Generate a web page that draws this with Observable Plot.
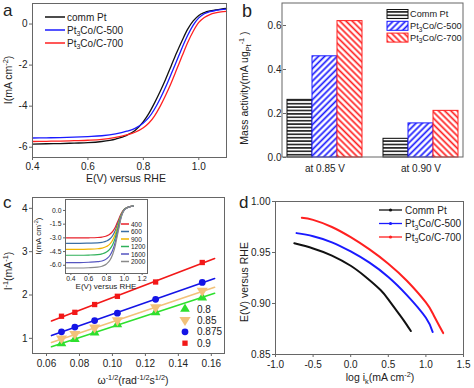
<!DOCTYPE html>
<html><head><meta charset="utf-8">
<script src="https://cdn.jsdelivr.net/npm/d3@7"></script>
<script src="https://cdn.jsdelivr.net/npm/@observablehq/plot@0.6"></script>
<style>
body{margin:0;background:#fff;}
#wrap{position:relative;width:474px;height:388px;overflow:hidden;background:#fff;}
#wrap svg{position:absolute;}
</style></head><body><div id="wrap"></div>
<script>
// ---------- Panel a data (LSV curves) ----------
const aE    = [0.40,0.45,0.50,0.55,0.60,0.65,0.70,0.74,0.77,0.80,0.82,0.84,0.86,0.88,0.90,0.92,0.94,0.96,0.98,1.00,1.02,1.04,1.06,1.08,1.10];
const aPt   = [-5.85,-5.83,-5.82,-5.80,-5.78,-5.72,-5.60,-5.42,-5.18,-4.75,-4.35,-3.85,-3.30,-2.70,-2.05,-1.40,-0.80,-0.25,0.15,0.42,0.56,0.64,0.69,0.73,0.76];
const a500  = [-5.55,-5.54,-5.53,-5.51,-5.48,-5.44,-5.35,-5.22,-5.08,-4.82,-4.55,-4.15,-3.65,-3.08,-2.45,-1.80,-1.15,-0.55,-0.05,0.30,0.50,0.60,0.66,0.70,0.73];
const a700  = [-5.72,-5.71,-5.70,-5.68,-5.66,-5.62,-5.52,-5.40,-5.27,-5.05,-4.82,-4.48,-4.02,-3.48,-2.88,-2.22,-1.55,-0.90,-0.35,0.08,0.32,0.46,0.54,0.59,0.62];
const aSeries = ["comm Pt","Pt3Co/C-500","Pt3Co/C-700"];
const aColors = ["#111111","#1a1aff","#ff2020"];

// ---------- Panel b data (mass activity) ----------
const bGroups = ["at 0.85 V","at 0.90 V"];
const bSeries = ["Comm Pt","Pt3Co/C-500","Pt3Co/C-700"];
const bCommPt = [0.262,0.085];
const b500    = [0.460,0.155];
const b700    = [0.620,0.212];
const bColors = ["#111111","#1a1aff","#ff2020"];

// ---------- Panel c data (K-L plots) ----------
const cX     = [0.0691,0.0772,0.0892,0.1030,0.1262,0.1545];
const cV080  = [0.88,0.98,1.13,1.32,1.60,1.94];
const cV085  = [0.99,1.09,1.24,1.41,1.71,2.09];
const cV0875 = [1.15,1.26,1.41,1.58,1.90,2.29];
const cV090  = [1.51,1.60,1.78,1.97,2.30,2.75];
const cSeries = ["0.8","0.85","0.875","0.9"];
const cColors = ["#2ee02e","#f2c27a","#1414e6","#f21818"];
const cFitRange = [0.063,0.162];

// ---------- Panel c inset data (LSV at rotation rates) ----------
const iE    = [0.35,0.50,0.60,0.70,0.75,0.80,0.84,0.87,0.90,0.92,0.94,0.96,0.98,1.00,1.03,1.06,1.10];
const i400  = [-3.00,-3.00,-2.99,-2.96,-2.91,-2.79,-2.58,-2.28,-1.80,-1.35,-0.90,-0.45,-0.10,0.15,0.32,0.42,0.48];
const i600  = [-3.60,-3.60,-3.58,-3.55,-3.49,-3.35,-3.10,-2.74,-2.16,-1.62,-1.08,-0.54,-0.14,0.12,0.31,0.42,0.48];
const i900  = [-4.25,-4.25,-4.23,-4.19,-4.12,-3.95,-3.66,-3.23,-2.55,-1.91,-1.28,-0.64,-0.18,0.10,0.30,0.41,0.48];
const i1200 = [-4.90,-4.90,-4.88,-4.83,-4.75,-4.56,-4.21,-3.72,-2.94,-2.20,-1.47,-0.74,-0.22,0.08,0.29,0.41,0.48];
const i1600 = [-5.70,-5.70,-5.67,-5.61,-5.53,-5.30,-4.90,-4.33,-3.42,-2.57,-1.71,-0.86,-0.27,0.06,0.28,0.40,0.48];
const i2000 = [-6.30,-6.30,-6.27,-6.21,-6.11,-5.86,-5.42,-4.79,-3.78,-2.84,-1.89,-0.95,-0.31,0.04,0.27,0.40,0.48];
const iSeries = ["400","600","900","1200","1600","2000"];
const iColors = ["#e8202a","#3a6ea5","#f0b400","#2fb05a","#5555c0","#8a8a8a"];

// ---------- Panel d data (Tafel plots) ----------
const dPtX  = [-0.75,-0.50,-0.25,0.00,0.20,0.40,0.50,0.60,0.70,0.80];
const dPtY  = [0.959,0.954,0.947,0.937,0.926,0.913,0.904,0.894,0.884,0.873];
const d500X = [-0.72,-0.50,-0.25,0.00,0.25,0.50,0.75,1.00,1.09];
const d500Y = [0.969,0.966,0.960,0.951,0.940,0.926,0.908,0.886,0.872];
const d700X = [-0.65,-0.50,-0.25,0.00,0.25,0.50,0.75,1.00,1.10,1.23];
const d700Y = [0.984,0.982,0.975,0.965,0.953,0.939,0.922,0.901,0.889,0.871];
const dSeries = ["Comm Pt","Pt3Co/C-500","Pt3Co/C-700"];
const dColors = ["#111111","#1a1aff","#ff2020"];

// ---------- helpers ----------
const FONT = "'Liberation Sans', Arial, Helvetica, sans-serif";
const TXT = "#222";
const FRAME = "#666";
const wrap = document.getElementById("wrap");
function place(svg, left, top) { svg.style.left = left + "px"; svg.style.top = top + "px"; wrap.appendChild(svg); return svg; }
function baseStyle(size) { return {fontFamily: FONT, fontSize: size + "px", background: "transparent", color: TXT, overflow: "visible"}; }
function rich(svg, x, y, parts, o = {}) {
  const size = o.size || 10.5;
  const t = d3.select(svg).append("text")
    .attr("transform", `translate(${x},${y})` + (o.rotate ? ` rotate(${o.rotate})` : ""))
    .attr("text-anchor", o.anchor || "start")
    .attr("font-family", FONT).attr("font-size", size)
    .attr("fill", o.fill || TXT);
  let cur = 0;
  for (const p of parts) {
    const [s, k] = Array.isArray(p) ? p : [p, ""];
    const target = k === "sup" ? -size * 0.4 : k === "sub" ? size * 0.28 : 0;
    t.append("tspan").attr("dy", target - cur).attr("font-size", k ? size * 0.7 : size).text(s);
    cur = target;
  }
  return t;
}
function label(name) {
  if (name.startsWith("Pt3")) return ["Pt", ["3", "sub"], name.slice(3)];
  return [name];
}
const dec1 = d => d.toFixed(1);
const dec2 = d => d.toFixed(2);

// ---------- Panel a ----------
const aRows = [];
[aPt, a500, a700].forEach((arr, k) => arr.forEach((v, i) => aRows.push({E: aE[i], I: v, s: aSeries[k]})));
const pa = Plot.plot({
  width: 237, height: 194, marginLeft: 32, marginRight: 11, marginTop: 3, marginBottom: 37,
  style: baseStyle(10),
  x: {domain: [0.4, 1.1]}, y: {domain: [-6.5, 1.0]},
  color: {domain: aSeries, range: aColors},
  marks: [
    Plot.line(aRows, {x: "E", y: "I", z: "s", stroke: "s", strokeWidth: 1.3, curve: "monotone-x"}),
    Plot.frame({stroke: FRAME}),
    Plot.axisX({ticks: [0.4, 0.6, 0.8, 1.0], tickFormat: dec1, tickSize: 3, tickPadding: 2, label: null, stroke: FRAME}),
    Plot.axisY({ticks: [0, -2, -4, -6], tickFormat: d => String(d), tickSize: 3, tickPadding: 2, label: null, stroke: FRAME})
  ]
});
place(pa, 0, 0);
rich(pa, 3, 16, ["a"], {size: 17});
rich(pa, 12, 80, ["I(mA cm", ["-2", "sup"], ")"], {size: 10.5, anchor: "middle", rotate: -90});
rich(pa, 126, 182, ["E(V) versus RHE"], {size: 10.5, anchor: "middle"});
aSeries.forEach((s, k) => {
  const y = 17 + k * 13;
  d3.select(pa).append("line").attr("x1", 45).attr("x2", 65).attr("y1", y).attr("y2", y).attr("stroke", aColors[k]).attr("stroke-width", 1.5);
  rich(pa, 67, y + 3.5, label(s), {size: 10});
});

// ---------- Panel b ----------
const bRows = [];
[bCommPt, b500, b700].forEach((arr, k) => arr.forEach((v, i) => bRows.push({g: bGroups[i], s: bSeries[k], v})));
const pb = Plot.plot({
  width: 237, height: 194, marginLeft: 45, marginRight: 11, marginTop: 3, marginBottom: 37,
  style: baseStyle(10),
  fx: {domain: bGroups, paddingInner: 0.2, paddingOuter: 0.04},
  x: {domain: bSeries, padding: 0, axis: null},
  y: {domain: [0, 0.7]},
  marks: [
    ...bSeries.map((s, k) => Plot.barY(bRows.filter(d => d.s === s), {fx: "g", x: "s", y: "v", fill: "white", stroke: bColors[k], strokeWidth: 1, className: "bser" + k})),
    Plot.axisFx({anchor: "bottom", tickSize: 0, tickPadding: 7, label: null}),
    Plot.axisY({ticks: [0, 0.2, 0.4, 0.6], tickFormat: dec1, tickSize: 3, tickPadding: 2, label: null, stroke: FRAME})
  ]
});
place(pb, 237, 0);
{
  const svg = d3.select(pb);
  const defs = svg.insert("defs", ":first-child");
  function pat(id, color, angle, s, sw) {
    const p = defs.append("pattern").attr("id", id).attr("patternUnits", "userSpaceOnUse")
      .attr("width", s).attr("height", s).attr("patternTransform", `rotate(${angle})`);
    p.append("rect").attr("width", s).attr("height", s).attr("fill", "white");
    p.append("line").attr("x1", -1).attr("x2", s + 1).attr("y1", s / 2).attr("y2", s / 2).attr("stroke", color).attr("stroke-width", sw);
  }
  pat("hb0", bColors[0], 0, 3.4, 1.5);
  pat("hb1", bColors[1], -45, 4.4, 1.7);
  pat("hb2", bColors[2], 45, 4.4, 1.7);
  bSeries.forEach((s, k) => svg.selectAll(".bser" + k + " rect").attr("fill", `url(#hb${k})`));
  svg.append("rect").attr("x", 45).attr("y", 3).attr("width", 237 - 45 - 11).attr("height", 194 - 3 - 37)
    .attr("fill", "none").attr("stroke", FRAME);
  bSeries.forEach((s, k) => {
    const y = 14 + k * 11.8;
    svg.append("rect").attr("x", 150).attr("y", y - 4.5).attr("width", 21).attr("height", 9)
      .attr("fill", `url(#hb${k})`).attr("stroke", bColors[k]).attr("stroke-width", 1);
    rich(pb, 173, y + 3.3, label(s), {size: 9.2});
  });
}
rich(pb, 5, 17, ["b"], {size: 18});
rich(pb, 11, 88, ["Mass activity(mA ug", ["Pt", "sub"], ["-1", "sup"], " )"], {size: 10.5, anchor: "middle", rotate: -90});

// ---------- Panel c ----------
const cRows = [];
[cV080, cV085, cV0875, cV090].forEach((arr, k) => arr.forEach((v, i) => cRows.push({x: cX[i], y: v, s: cSeries[k]})));
const cFit = [];
[cV080, cV085, cV0875, cV090].forEach((arr, k) => {
  const mx = d3.mean(cX), my = d3.mean(arr);
  const slope = d3.sum(cX, (x, i) => (x - mx) * (arr[i] - my)) / d3.sum(cX, x => (x - mx) ** 2);
  cFitRange.forEach(x => cFit.push({x, y: my + slope * (x - mx), s: cSeries[k]}));
});
const triDown = {draw(ctx, size) {
  const r = Math.sqrt(size / 1.3);
  ctx.moveTo(-r, -r * 0.6); ctx.lineTo(r, -r * 0.6); ctx.lineTo(0, r * 1.0); ctx.closePath();
}};
const cSymbols = ["triangle", triDown, "circle", "square"];
const cSizes = [3.6, 3.6, 3.4, 3.0];
const pc = Plot.plot({
  width: 237, height: 194, marginLeft: 32, marginRight: 13, marginTop: 3, marginBottom: 35,
  style: baseStyle(10),
  x: {domain: [0.0515, 0.168]}, y: {domain: [0.65, 4.25]},
  color: {domain: cSeries, range: cColors},
  marks: [
    Plot.line(cFit, {x: "x", y: "y", z: "s", stroke: "s", strokeWidth: 1.6}),
    ...cSeries.map((s, k) => Plot.dot(cRows.filter(d => d.s === s), {x: "x", y: "y", fill: cColors[k], stroke: "none", symbol: cSymbols[k], r: cSizes[k]})),
    Plot.frame({stroke: FRAME}),
    Plot.axisX({ticks: [0.06, 0.08, 0.10, 0.12, 0.14, 0.16], tickFormat: dec2, tickSize: 3, tickPadding: 3, label: null, stroke: FRAME}),
    Plot.axisY({ticks: [1, 2, 3, 4], tickFormat: d => String(d), tickSize: 3, tickPadding: 2, label: null, stroke: FRAME})
  ]
});
place(pc, 0, 194);
rich(pc, 3, 14, ["c"], {size: 17});
rich(pc, 12, 77, ["I", ["-1", "sup"], "(mA", ["-1", "sup"], ")"], {size: 10.5, anchor: "middle", rotate: -90});
rich(pc, 133, 190, ["ω", ["-1/2", "sup"], "(rad", ["-1/2", "sup"], "s", ["1/2", "sup"], ")"], {size: 10.5, anchor: "middle"});
cSeries.forEach((s, k) => {
  const y = 115 + k * 11.4;
  const sz = Math.PI * cSizes[k] * cSizes[k];
  const sym = typeof cSymbols[k] === "string" ? {triangle: d3.symbolTriangle, circle: d3.symbolCircle, square: d3.symbolSquare}[cSymbols[k]] : cSymbols[k];
  d3.select(pc).append("path").attr("d", d3.symbol(sym, sz)()).attr("transform", `translate(185,${y})`).attr("fill", cColors[k]);
  rich(pc, 197, y + 3.5, [s], {size: 10});
});

// ---------- Panel c inset ----------
const iRows = [];
[i400, i600, i900, i1200, i1600, i2000].forEach((arr, k) => arr.forEach((v, i) => iRows.push({E: iE[i], I: v, s: iSeries[k]})));
const pi = Plot.plot({
  width: 120, height: 98, marginLeft: 33, marginRight: 5, marginTop: 5, marginBottom: 19,
  style: baseStyle(6.8),
  x: {domain: [0.34, 1.26]}, y: {domain: [-6.9, 1.2]},
  color: {domain: iSeries, range: iColors},
  marks: [
    Plot.frame({fill: "white", stroke: "none"}),
    Plot.line(iRows, {x: "E", y: "I", z: "s", stroke: "s", strokeWidth: 1.2, curve: "monotone-x"}),
    Plot.frame({stroke: FRAME}),
    Plot.axisX({ticks: [0.4, 0.6, 0.8, 1.0, 1.2], tickFormat: dec1, tickSize: 2, tickPadding: 1, label: null, stroke: FRAME}),
    Plot.axisY({ticks: [0, -1.5, -3, -4.5, -6], tickFormat: dec1, tickSize: 2, tickPadding: 2, label: null, stroke: FRAME})
  ]
});
place(pi, 32, 194);
rich(pi, 9, 42, ["I(mA cm", ["-2", "sup"], ")"], {size: 8, anchor: "middle", rotate: -90});
rich(pi, 74, 95, ["E(V) versus RHE"], {size: 8, anchor: "middle"});
iSeries.forEach((s, k) => {
  const y = 30 + k * 7.5;
  d3.select(pi).append("line").attr("x1", 89).attr("x2", 97).attr("y1", y).attr("y2", y).attr("stroke", iColors[k]).attr("stroke-width", 1.5);
  rich(pi, 99, y + 2.5, [s], {size: 6.5});
});

// ---------- Panel d ----------
const dRows = [];
[[dPtX, dPtY], [d500X, d500Y], [d700X, d700Y]].forEach(([xs, ys], k) => xs.forEach((x, i) => dRows.push({x, y: ys[i], s: dSeries[k]})));
const pd = Plot.plot({
  width: 237, height: 194, marginLeft: 38, marginRight: 11, marginTop: 7, marginBottom: 34,
  style: baseStyle(10),
  x: {domain: [-1, 1.5]}, y: {domain: [0.85, 1.0]},
  color: {domain: dSeries, range: dColors},
  marks: [
    Plot.line(dRows, {x: "x", y: "y", z: "s", stroke: "s", strokeWidth: 2, curve: "natural"}),
    Plot.frame({stroke: FRAME}),
    Plot.axisX({ticks: [-1, -0.5, 0, 0.5, 1, 1.5], tickFormat: dec1, tickSize: 3, tickPadding: 3, label: null, stroke: FRAME}),
    Plot.axisY({ticks: [0.85, 0.9, 0.95, 1.0], tickFormat: dec2, tickSize: 3, tickPadding: 2, label: null, stroke: FRAME})
  ]
});
place(pd, 237, 194);
rich(pd, 2, 14, ["d"], {size: 17});
rich(pd, 11, 88, ["E(V) versus RHE"], {size: 10.5, anchor: "middle", rotate: -90});
rich(pd, 143, 187, ["log i", ["k", "sub"], "(mA cm", ["-2", "sup"], ")"], {size: 10.5, anchor: "middle"});
dSeries.forEach((s, k) => {
  const y = 16 + k * 13.5;
  d3.select(pd).append("line").attr("x1", 142).attr("x2", 165).attr("y1", y).attr("y2", y).attr("stroke", dColors[k]).attr("stroke-width", 1.3);
  d3.select(pd).append("circle").attr("cx", 153.5).attr("cy", y).attr("r", 1.6).attr("fill", dColors[k]);
  rich(pd, 168, y + 3.5, label(s), {size: 10});
});
</script></body></html>
